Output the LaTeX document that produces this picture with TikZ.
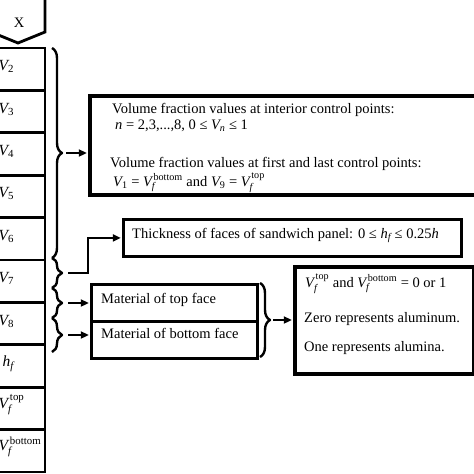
\documentclass[tikz,border=0pt]{standalone}
\usepackage{fontspec}
\usepackage{amsmath}
\setmainfont{Liberation Serif}
\usetikzlibrary{decorations.pathreplacing,arrows.meta,calc}
\tikzset{
 cellbox/.style={draw, line width=2.8pt, minimum width=54pt, minimum height=42.4pt, inner sep=0pt},
 celllab/.style={anchor=base west, inner sep=0pt, font=\fontsize{15.5}{18}\selectfont},
 framebox/.style={draw, line width=2.8pt, inner sep=0pt, anchor=north west},
 heavybox/.style={draw, line width=3.6pt, inner sep=0pt, anchor=north west},
 txt/.style={anchor=base west, inner sep=0pt, font=\fontsize{14.5}{17}\selectfont},
 curly/.style={decorate, decoration={brace, amplitude=10pt}, line width=2.4pt, line join=round},
 arr/.style={line width=2.4pt, -{Triangle[length=8pt,width=7pt]}, shorten >=1.2pt},
}
\begin{document}
\begin{tikzpicture}[x=1pt,y=-1pt]
\useasboundingbox (0,0) rectangle (474,474);
% header pentagon
\draw[line width=2.8pt, line join=miter] (-9,-5) -- (45,-5) -- (45,32) -- (18,43) -- (-9,32) -- cycle;
\node[txt, anchor=base] (xlab) at (19,27) {X};
% cells
\node[cellbox] (c2) at (18,69.2) {};
\node[cellbox] (c3) at (18,111.6) {};
\node[cellbox] (c4) at (18,154) {};
\node[cellbox] (c5) at (18,196.4) {};
\node[cellbox] (c6) at (18,238.8) {};
\node[cellbox] (c7) at (18,281.2) {};
\node[cellbox] (c8) at (18,323.6) {};
\node[cellbox] (ch) at (18,366) {};
\node[cellbox] (ct) at (18,408.4) {};
\node[cellbox] (cb) at (18,450.8) {};
\node[celllab] (l2) at (-1.5,70.5) {$\textit{V}_{\text{2}}$};
\node[celllab] (l3) at (-1.5,113) {$\textit{V}_{\text{3}}$};
\node[celllab] (l4) at (-1.5,155.4) {$\textit{V}_{\text{4}}$};
\node[celllab] (l5) at (-1.5,197.8) {$\textit{V}_{\text{5}}$};
\node[celllab] (l6) at (-1.5,240.2) {$\textit{V}_{\text{6}}$};
\node[celllab] (l7) at (-1.5,282.6) {$\textit{V}_{\text{7}}$};
\node[celllab] (l8) at (-1.5,325) {$\textit{V}_{\text{8}}$};
\node[celllab] (lh) at (2.5,366.8) {$\textit{h}_{\textit{f}}$};
\node[celllab] (lt) at (-1.5,408) {$\textit{V}_{\textit{f}}^{\,\text{top}}$};
\node[celllab] (lb) at (-1.5,450.6) {$\textit{V}_{\textit{f}}^{\,\text{bottom}}$};
% boxes
\node[heavybox, minimum width=402pt, minimum height=99pt] (b1) at (88,94) {};
\node[framebox, minimum width=338pt, minimum height=37pt] (b2) at (122,218) {};
\node[framebox, minimum width=166pt, minimum height=37pt] (m1) at (90,283) {};
\node[framebox, minimum width=166pt, minimum height=37pt] (m2) at (90,320) {};
\node[heavybox, minimum width=179pt, minimum height=107pt] (b3) at (293,265) {};
% texts
\node[txt] (t1) at (112,113) {Volume fraction values at interior control points:};
\node[txt] (t2) at (115,129) {$\textit{n}$ = 2,3,...,8, 0 ≤ $\textit{V}_{\textit{n}}$ ≤ 1};
\node[txt] (t3) at (110,167) {Volume fraction values at first and last control points:};
\node[txt] (t4) at (113,186) {$\textit{V}_{\text{1}}$ = $\textit{V}_{\textit{f}}^{\,\text{bottom}}$ and $\textit{V}_{\text{9}}$ = $\textit{V}_{\textit{f}}^{\,\text{top}}$};
\node[txt] (t5) at (132,238) {Thickness of faces of sandwich panel: 0 ≤ $\textit{h}_{\textit{f}}$ ≤ 0.25$\textit{h}$};
\node[txt] (t6) at (101,303) {Material of top face};
\node[txt] (t7) at (101,338) {Material of bottom face};
\node[txt] (t8) at (305,287) {$\textit{V}_{\textit{f}}^{\,\text{top}}$ and $\textit{V}_{\textit{f}}^{\,\text{bottom}}$ = 0 or 1};
\node[txt] (t9) at (304,322) {Zero represents aluminum.};
\node[txt] (t10) at (304,351) {One represents alumina.};
% braces
\draw[curly] (52,48) -- (52,258);
\draw[curly] (52,258) -- (52,288);
\draw[curly] (52,288) -- (52,318);
\draw[curly] (52,318) -- (52,352);
\draw[curly] (260,283) -- (260,357);
% connectors
\coordinate (a1) at (66,153);
\coordinate (a2) at (68,273);
\coordinate (bend) at (88,273);
\coordinate (a3) at (68,303);
\coordinate (a4) at (68,335);
\coordinate (a5) at (273,320);
\draw[arr] (a1) -- (a1 -| b1.west);
\draw[arr] (a2) -- (bend) |- (b2.west);
\draw[arr] (a3) -- (a3 -| m1.west);
\draw[arr] (a4) -- (a4 -| m2.west);
\draw[arr] (a5) -- (a5 -| b3.west);
\end{tikzpicture}
\end{document}
